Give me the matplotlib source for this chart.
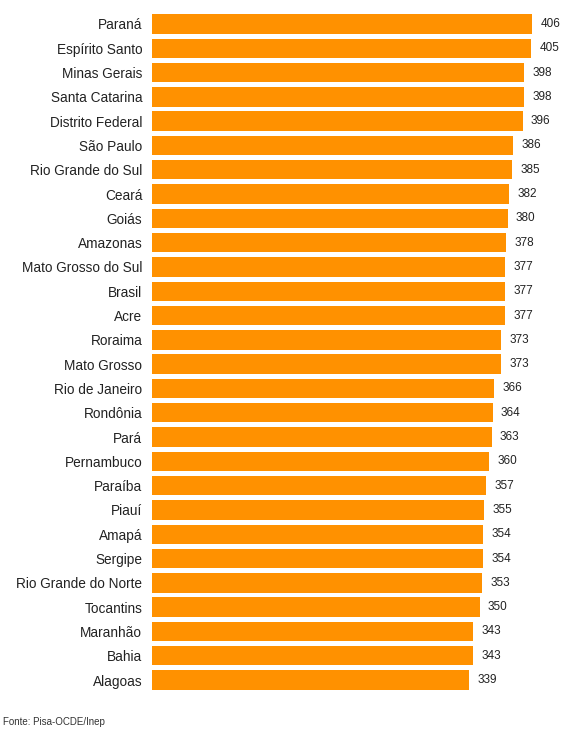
import matplotlib.pyplot as plt

# dados
estados = ["Paraná", "Espírito Santo", "Minas Gerais", "Santa Catarina", "Distrito Federal",
           "São Paulo", "Rio Grande do Sul", "Ceará", "Goiás", "Amazonas",
           "Mato Grosso do Sul", "Brasil", "Acre", "Roraima", "Mato Grosso",
           "Rio de Janeiro", "Rondônia", "Pará", "Pernambuco", "Paraíba",
           "Piauí", "Amapá", "Sergipe", "Rio Grande do Norte", "Tocantins",
           "Maranhão", "Bahia", "Alagoas"]
notas = [406, 405, 398, 398, 396, 386, 385, 382, 380, 378,
         377, 377, 377, 373, 373, 366, 364, 363, 360, 357,
         355, 354, 354, 353, 350, 343, 343, 339]
fonte = "Fonte: Pisa-OCDE/Inep"

plt.rcParams['font.family'] = ['Liberation Sans', 'DejaVu Sans']

fig = plt.figure(figsize=(5.73, 7.31), dpi=100)
ax = fig.add_axes([152/573, 0.0531, (560-152)/573, 0.9838-0.0531])

y = list(range(len(estados)))
ax.barh(y, notas, height=0.8, color='#ff9100')
for i, v in enumerate(notas):
    ax.annotate(str(v), (v, i), xytext=(6, 0), textcoords='offset points',
                va='center', ha='left', fontsize=8.5, color='#222222')

ax.set_ylim(len(estados) - 0.5, -0.5)
ax.set_xlim(0, 436)
ax.set_yticks(y)
ax.set_yticklabels(estados, fontsize=9.8, color='#222222')
ax.tick_params(axis='y', length=0, pad=7)
ax.set_xticks([])
for s in ax.spines.values():
    s.set_visible(False)

fig.text(3/573, 1 - 722/731, fonte, fontsize=7, color='#333333', va='center', ha='left')

fig.savefig('out.png', dpi=100)
